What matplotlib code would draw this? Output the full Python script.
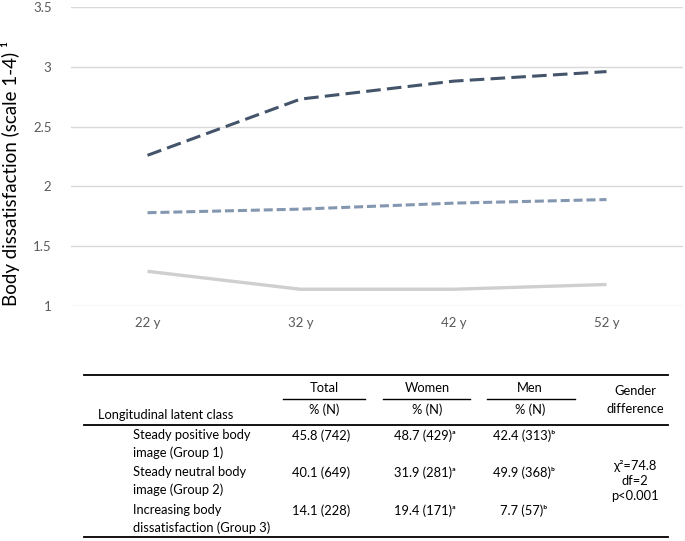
import matplotlib
matplotlib.use("Agg")
import matplotlib.pyplot as plt
from matplotlib.lines import Line2D

plt.rcParams["font.family"] = ["Lato", "DejaVu Sans"]
plt.rcParams["lines.scale_dashes"] = False

# --- chart data ---
ages = ["22 y", "32 y", "42 y", "52 y"]
group1 = [1.29, 1.14, 1.14, 1.18]   # steady positive body image
group2 = [1.78, 1.81, 1.86, 1.89]   # steady neutral body image
group3 = [2.26, 2.73, 2.88, 2.96]   # increasing body dissatisfaction
yticks = [1, 1.5, 2, 2.5, 3, 3.5]
ytick_labels = ["1", "1.5", "2", "2.5", "3", "3.5"]

# --- table data ---
col_heads = ["Total", "Women", "Men"]
class_labels = [
    "Steady positive body\nimage (Group 1)",
    "Steady neutral body\nimage (Group 2)",
    "Increasing body\ndissatisfaction (Group 3)",
]
total_vals = ["45.8 (742)", "40.1 (649)", "14.1 (228)"]
women_vals = ["48.7 (429)\u1d43", "31.9 (281)\u1d43", "19.4 (171)\u1d43"]
men_vals = ["42.4 (313)\u1d47", "49.9 (368)\u1d47", "7.7 (57)\u1d47"]
gender_test = "\u03c7\u00b2=74.8\ndf=2\np<0.001"

W, H = 685, 541
fig = plt.figure(figsize=(W / 100, H / 100), dpi=100)


def fx(px):
    return px / W


def fy(py):
    return 1 - py / H


ax = fig.add_axes([fx(71), fy(306), fx(683) - fx(71), fy(7) - fy(306)])
x = list(range(len(ages)))
ax.plot(x, group1, color="#d0cece", lw=2.4, solid_capstyle="butt", clip_on=False, zorder=3)
ax.plot(x, group2, color="#8497b0", lw=2.2, dashes=(6.5, 2.8), clip_on=False, zorder=3)
ax.plot(x, group3, color="#44546a", lw=2.2, dashes=(10.5, 4.5), clip_on=False, zorder=3)

ax.set_xlim(-0.5, len(ages) - 0.5)
ax.set_ylim(1, 3.5)
ax.set_yticks(yticks)
ax.set_yticklabels(ytick_labels)
ax.set_xticks(x)
ax.set_xticklabels(ages)
ax.grid(axis="y", color="#d9d9d9", lw=1.0)
ax.set_axisbelow(True)
for s in ax.spines.values():
    s.set_visible(False)
ax.tick_params(axis="both", length=0, colors="#595959", labelsize=9.5)
ax.tick_params(axis="y", pad=14)
ax.tick_params(axis="x", pad=8)
ax.set_ylabel("Body dissatisfaction (scale 1-4) \u00b9", fontsize=13.5, color="black")
ax.yaxis.set_label_coords(-0.084, 0.445)

# --- table below the chart ---
def hline(x0, x1, y, lw):
    fig.add_artist(Line2D([fx(x0), fx(x1)], [fy(y), fy(y)], color="black", lw=lw))


hline(84, 668, 375, 1.3)
hline(84, 668, 425, 1.3)
hline(84, 668, 537, 1.3)
for x0, x1 in [(283, 365), (383, 470), (487, 575)]:
    hline(x0, x1, 398.5, 1.0)

fs = 9.3
col_x = [324, 427, 530]
for cx, head in zip(col_x, col_heads):
    fig.text(fx(cx), fy(388), head, ha="center", va="center", fontsize=fs)
    fig.text(fx(cx), fy(410), "% (N)", ha="center", va="center", fontsize=fs)
fig.text(fx(635), fy(400), "Gender\ndifference", ha="center", va="center", fontsize=fs,
         linespacing=1.55)
fig.text(fx(98), fy(415), "Longitudinal latent class", ha="left", va="center", fontsize=fs)

row_y = [436, 473, 511]
val_x = [321, 425, 524]
for i, ry in enumerate(row_y):
    fig.text(fx(133), fy(ry - 7), class_labels[i], ha="left", va="top", fontsize=fs,
             linespacing=1.55)
    for vx, vals in zip(val_x, [total_vals, women_vals, men_vals]):
        fig.text(fx(vx), fy(ry), vals[i], ha="center", va="center", fontsize=fs)
fig.text(fx(635), fy(481), gender_test, ha="center", va="center", fontsize=fs,
         linespacing=1.35)

fig.savefig("out.png", dpi=100)
